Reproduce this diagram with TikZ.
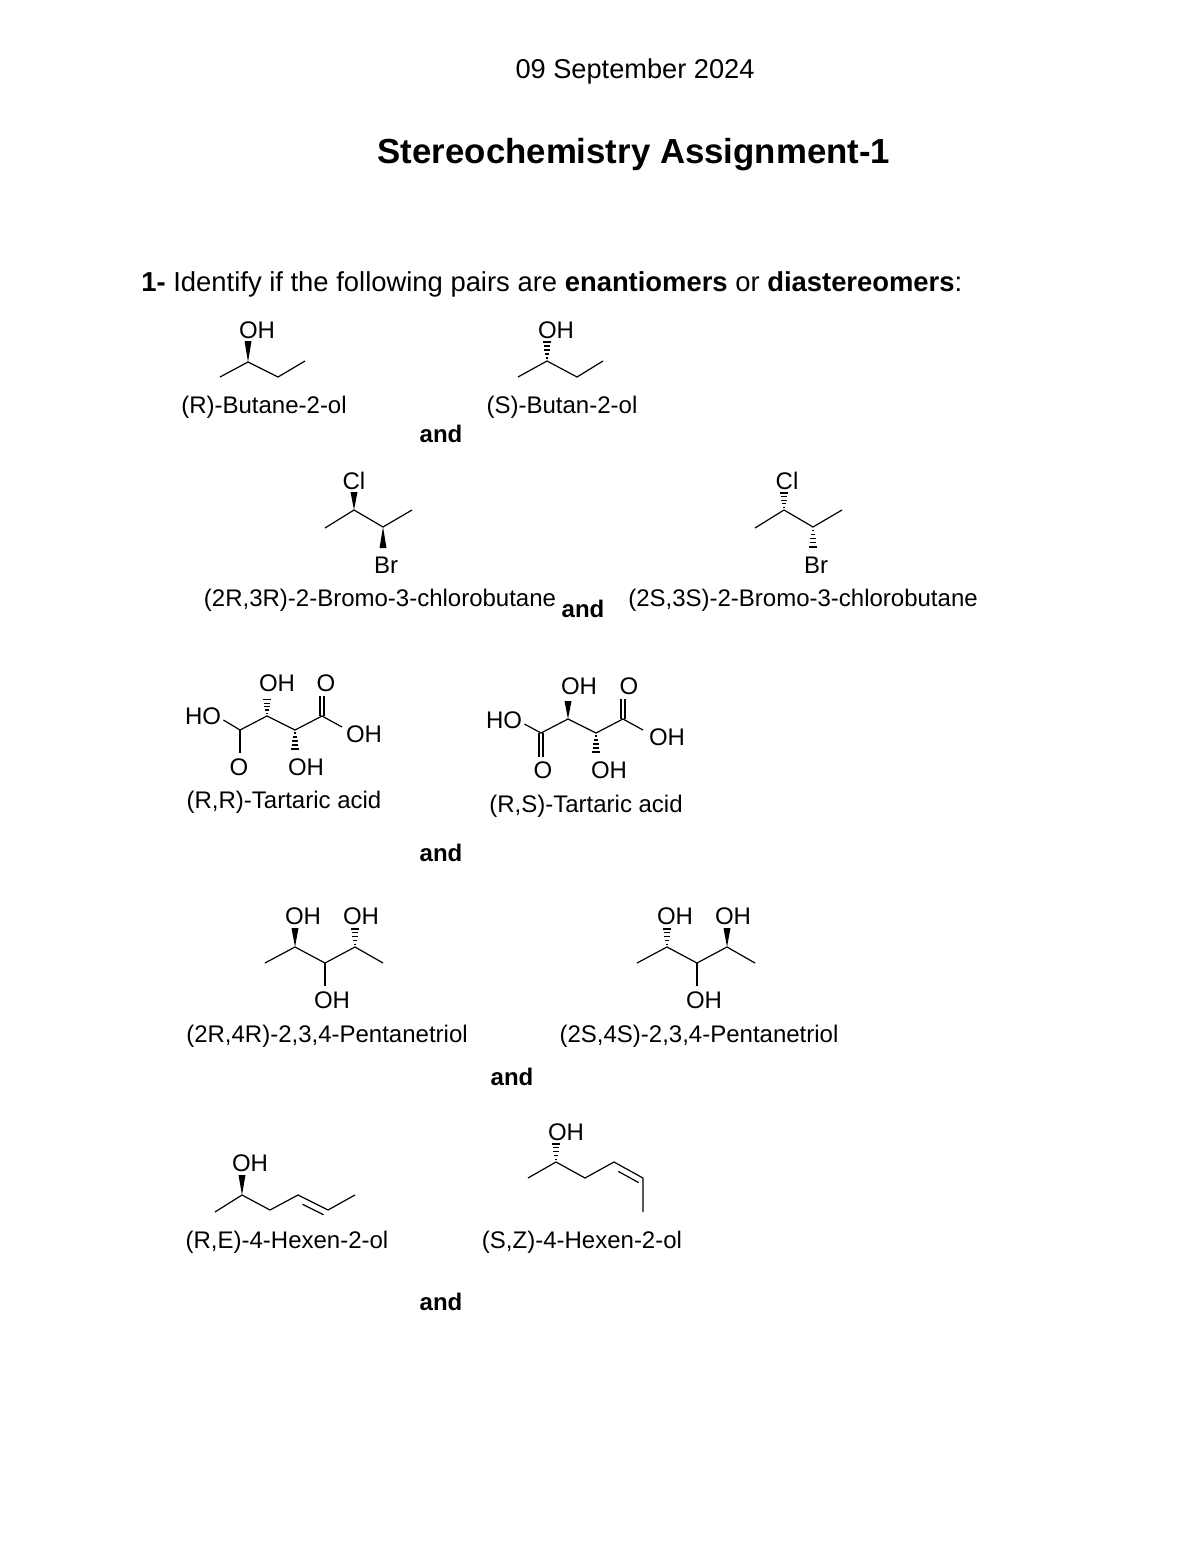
\documentclass[tikz,border=0pt]{standalone}
\usepackage{fontspec}
\setmainfont{Liberation Sans}
\usetikzlibrary{calc}
\begin{document}
\begin{tikzpicture}[x=0.5pt,y=-0.5pt,
  bond/.style={line width=0.6pt},
  atom/.style={font=\fontsize{12}{14}\selectfont,inner sep=0pt},
  lab/.style={font=\fontsize{12}{14}\selectfont,inner sep=0pt},
  andtxt/.style={font=\fontsize{12}{14}\selectfont\bfseries,inner sep=0pt}]
\newcommand{\wdg}[2]{\fill ($(#1)$) -- ($(#2)+(-3.5,0)$) -- ($(#2)+(3.5,0)$) -- cycle;}
\newcommand{\hsh}[2]{\foreach \t/\w in {0.15/1,0.35/1.8,0.55/2.6,0.75/3.4,0.95/4.2}{\draw[line width=0.6pt] ($(#1)!\t!(#2)+(-\w,0)$) -- ($(#1)!\t!(#2)+(\w,0)$);}}
\useasboundingbox (0,0) rectangle (1200,1553);
\fill[white] (0,0) rectangle (1200,1553);
\node[font=\fontsize{13.6}{16}\selectfont] (date) at (635,71) {09 September 2024};
\node[font=\fontsize{17.4}{20}\selectfont\bfseries] (title) at (634,155) {Stereochemistry Assignment-1};
\node[anchor=west,font=\fontsize{13.7}{16}\selectfont,inner sep=0pt] (q) at (141,284) {\textbf{1-} Identify if the following pairs are \textbf{enantiomers} or \textbf{diastereomers}:};
% butan-2-ol
\begin{scope}[bond]
\coordinate (a1) at (220,377); \coordinate (a2) at (248,362); \coordinate (a3) at (278,377); \coordinate (a4) at (305,361); \coordinate (a5) at (248,341);
\draw (a1)--(a2)--(a3)--(a4);
\end{scope}
\wdg{a2}{a5}
\node[atom] (oh1) at (257,330) {OH};
\node[lab] (l1) at (264,407) {(R)-Butane-2-ol};
\coordinate (b1) at (518,377); \coordinate (b2) at (547,361); \coordinate (b3) at (577,377); \coordinate (b4) at (603,361); \coordinate (b5) at (547,341);
\draw[bond] (b1)--(b2)--(b3)--(b4);
\hsh{b2}{b5}
\node[atom] (oh2) at (556,330) {OH};
\node[lab] (l2) at (562,407) {(S)-Butan-2-ol};
\node[andtxt] (and1) at (441,434) {and};
% bromochlorobutane
\coordinate (c1) at (325,528); \coordinate (c2) at (354,510); \coordinate (c3) at (383,527); \coordinate (c4) at (412,510);
\coordinate (c5) at (354,492); \coordinate (c6) at (383,548);
\draw[bond] (c1)--(c2)--(c3)--(c4);
\wdg{c2}{c5} \wdg{c3}{c6}
\node[atom] (cl1) at (354,481) {Cl};
\node[atom] (br1) at (386,565) {Br};
\node[lab] (l3) at (380,600) {(2R,3R)-2-Bromo-3-chlorobutane};
\node[andtxt] (and2) at (583,609) {and};
\coordinate (d1) at (755,528); \coordinate (d2) at (784,510); \coordinate (d3) at (813,527); \coordinate (d4) at (842,510);
\coordinate (d5) at (784,492); \coordinate (d6) at (813,548);
\draw[bond] (d1)--(d2)--(d3)--(d4);
\hsh{d2}{d5} \hsh{d3}{d6}
\node[atom] (cl2) at (787,481) {Cl};
\node[atom] (br2) at (816,565) {Br};
\node[lab] (l4) at (803,600) {(2S,3S)-2-Bromo-3-chlorobutane};
% tartaric acid RR
\node[atom] (ho1) at (203,716) {HO};
\coordinate (e1) at (240,730); \coordinate (e2) at (267,716); \coordinate (e3) at (295,730); \coordinate (e4) at (322,716);
\draw[bond] ($(ho1.east)+(2,4)$) -- (e1) -- (e2) -- (e3) -- (e4) -- (342,727);
\draw[bond] (e1) -- (240,753);
\draw[bond] ($(e4)+(-2,0)$) -- (320,696) ($(e4)+(2,0)$) -- (324,696);
\hsh{e2}{267,699} \hsh{e3}{295,750}
\node[atom] (o1) at (239,767) {O};
\node[atom] (o2) at (326,683) {O};
\node[atom] (oh3) at (277,683) {OH};
\node[atom] (oh4) at (306,767) {OH};
\node[atom] (oh5) at (364,734) {OH};
\node[lab] (l5) at (284,802) {(R,R)-Tartaric acid};
% tartaric acid RS
\node[atom] (ho2) at (504,720) {HO};
\coordinate (f1) at (541,733); \coordinate (f2) at (568,719); \coordinate (f3) at (596,733); \coordinate (f4) at (623,719);
\draw[bond] ($(ho2.east)+(2,4)$) -- (f1) -- (f2) -- (f3) -- (f4) -- (643,730);
\draw[bond] ($(f1)+(-2,0)$) -- (539,757) ($(f1)+(2,0)$) -- (543,757);
\draw[bond] ($(f4)+(-2,0)$) -- (621,699) ($(f4)+(2,0)$) -- (625,699);
\wdg{f2}{568,701} \hsh{f3}{596,753}
\node[atom] (o3) at (543,770) {O};
\node[atom] (o4) at (629,686) {O};
\node[atom] (oh6) at (579,686) {OH};
\node[atom] (oh7) at (609,770) {OH};
\node[atom] (oh8) at (667,737) {OH};
\node[lab] (l6) at (586,806) {(R,S)-Tartaric acid};
\node[andtxt] (and3) at (441,853) {and};
% pentanetriol 1
\coordinate (g1) at (265,963); \coordinate (g2) at (295,947); \coordinate (g3) at (325,963); \coordinate (g4) at (355,947); \coordinate (g5) at (383,963);
\draw[bond] (g1)--(g2)--(g3)--(g4)--(g5);
\draw[bond] (g3) -- (325,986);
\wdg{g2}{295,928} \hsh{g4}{355,928}
\node[atom] (oh9) at (303,916) {OH};
\node[atom] (oh10) at (361,916) {OH};
\node[atom] (oh11) at (332,1000) {OH};
\node[lab] (l7) at (327,1036) {(2R,4R)-2,3,4-Pentanetriol};
% pentanetriol 2
\coordinate (h1) at (637,963); \coordinate (h2) at (667,947); \coordinate (h3) at (697,963); \coordinate (h4) at (727,947); \coordinate (h5) at (755,963);
\draw[bond] (h1)--(h2)--(h3)--(h4)--(h5);
\draw[bond] (h3) -- (697,986);
\hsh{h2}{667,928} \wdg{h4}{727,928}
\node[atom] (oh12) at (675,916) {OH};
\node[atom] (oh13) at (733,916) {OH};
\node[atom] (oh14) at (704,1000) {OH};
\node[lab] (l8) at (699,1036) {(2S,4S)-2,3,4-Pentanetriol};
\node[andtxt] (and4) at (512,1077) {and};
% hexenol E
\coordinate (i1) at (215,1212); \coordinate (i2) at (242,1195); \coordinate (i3) at (270,1210); \coordinate (i4) at (298,1195); \coordinate (i5) at (328,1210); \coordinate (i6) at (355,1195);
\draw[bond] (i1)--(i2)--(i3)--(i4)--(i5)--(i6);
\draw[bond] ($(i4)!0.15!(i5)+(0,7)$) -- ($(i4)!0.85!(i5)+(0,7)$);
\wdg{i2}{242,1175}
\node[atom] (oh15) at (250,1163) {OH};
\node[lab] (l9) at (287,1242) {(R,E)-4-Hexen-2-ol};
% hexenol Z
\coordinate (j1) at (528,1178); \coordinate (j2) at (556,1162); \coordinate (j3) at (585,1178); \coordinate (j4) at (614,1162); \coordinate (j5) at (643,1178); \coordinate (j6) at (643,1212);
\draw[bond] (j1)--(j2)--(j3)--(j4)--(j5)--(j6);
\draw[bond] ($(j4)!0.15!(j5)+(0,7)$) -- ($(j4)!0.85!(j5)+(0,7)$);
\hsh{j2}{556,1143}
\node[atom] (oh16) at (566,1132) {OH};
\node[lab] (l10) at (582,1242) {(S,Z)-4-Hexen-2-ol};
\node[andtxt] (and5) at (441,1302) {and};
\end{tikzpicture}
\end{document}
